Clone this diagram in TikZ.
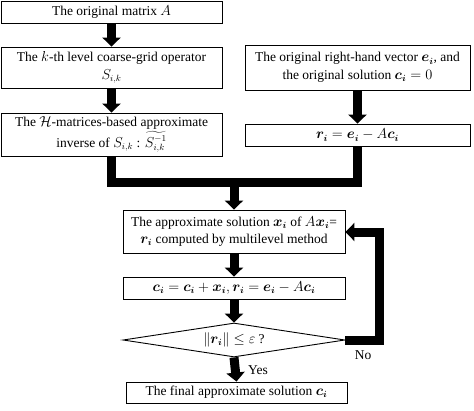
\documentclass[tikz,border=0pt]{standalone}
\usepackage{amsmath,amssymb}
\usepackage{bm}
\usepackage{fontspec}
\setmainfont{Liberation Serif}
\usetikzlibrary{arrows.meta,shapes.geometric}
\tikzset{
  boxnode/.style={draw=black,line width=0.9pt,rectangle,inner sep=0pt,align=center,
    font=\fontsize{13.5}{17.5}\selectfont},
  thickflow/.style={line width=9pt,line join=miter},
  thickarrow/.style={line width=9pt,line join=miter,-{Triangle[width=18pt,length=9pt]}},
  plainlabel/.style={font=\fontsize{13.5}{15}\selectfont,inner sep=0pt}
}
\begin{document}
\begin{tikzpicture}[x=1pt,y=-1pt]
\useasboundingbox (0,0) rectangle (474,410);
\node[boxnode,minimum width=221pt,minimum height=22pt] (b1) at (111.5,12) {The original matrix $A$};
\node[boxnode,minimum width=221pt,minimum height=41pt] (b2) at (111.5,67.5) {The $k$-th level coarse-grid operator\\$S_{i,k}$};
\node[boxnode,minimum width=221pt,minimum height=43pt] (b3) at (111.5,134.5) {The $\mathcal{H}$-matrices-based approximate\\[1pt]inverse of $S_{i,k}$ : $\widetilde{S_{i,k}^{-1}}$};
\node[boxnode,minimum width=225pt,minimum height=45pt] (r1) at (357.5,67.5) {The original right-hand vector $\bm{e_i}$, and\\the original solution $\bm{c_i}=0$};
\node[boxnode,minimum width=225pt,minimum height=22pt] (r2) at (357.5,135) {$\bm{r_i}=\bm{e_i}-A\bm{c_i}$};
\node[boxnode,minimum width=222pt,minimum height=43pt] (b4) at (234,231.5) {The approximate solution $\bm{x_i}$ of $A\bm{x_i}$=\\$\bm{r_i}$ computed by multilevel method};
\node[boxnode,minimum width=222pt,minimum height=22pt] (b5) at (234,288) {$\bm{c_i}=\bm{c_i}+\bm{x_i},\bm{r_i}=\bm{e_i}-A\bm{c_i}$};
\node[boxnode,shape=diamond,aspect=6.5,minimum width=222pt,minimum height=34pt] (d) at (234,340) {$\|\bm{r_i}\|\le\varepsilon$ ?};
\node[boxnode,minimum width=221pt,minimum height=21pt] (b6) at (236.5,392.5) {The final approximate solution $\bm{c_i}$};
\coordinate (mR) at (357.5,182);
\coordinate (m) at (234,182);
\coordinate (lp) at (379,232);
\draw[thickarrow] (b1.south) -- (b2.north);
\draw[thickarrow] (b2.south) -- (b3.north);
\draw[thickarrow] (r1.south) -- (r2.north);
\draw[thickflow] (b3.south) |- (mR) -- (r2.south);
\draw[thickarrow] (m) -- (b4.north);
\draw[thickarrow] (b4.south) -- (b5.north);
\draw[thickarrow] (b5.south) -- (d.north);
\draw[thickarrow] (d.south) -- (b6.north);
\draw[thickarrow] (d.east) -| (lp) -- (b4.east |- lp);
\node[plainlabel] (yes) at (258,370) {Yes};
\node[plainlabel] (no) at (363,355) {No};
\end{tikzpicture}
\end{document}
